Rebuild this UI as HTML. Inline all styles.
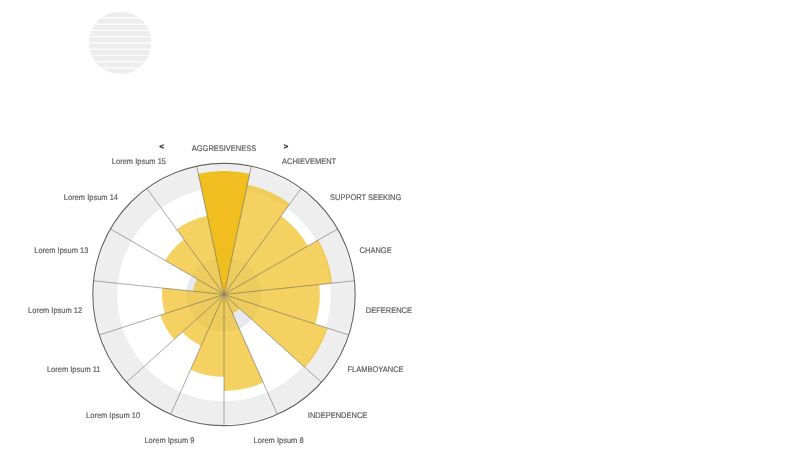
<!DOCTYPE html>
<html><head><meta charset="utf-8"><title>Chart</title>
<style>
html,body{margin:0;padding:0;background:#fff;}
body{width:800px;height:450px;overflow:hidden;position:relative;}
svg{position:absolute;left:0;top:0;display:block;}
text{font-family:"Liberation Sans",Arial,sans-serif;font-size:8.1px;fill:#5a5a5a;stroke:#5a5a5a;stroke-width:0.18px;text-rendering:geometricPrecision;}
.nav{font-weight:bold;font-size:7.6px;fill:#2e2e2e;stroke:#2e2e2e;stroke-width:0.35px;}
</style></head><body>
<svg width="800" height="450" viewBox="0 0 800 450">
<defs><clipPath id="cc"><circle cx="120.2" cy="42.75" r="31.3"/></clipPath></defs>
<g clip-path="url(#cc)">
<rect x="88" y="12.20" width="65" height="5.11" fill="#ededed"/>
<rect x="88" y="18.46" width="65" height="5.11" fill="#ededed"/>
<rect x="88" y="24.72" width="65" height="5.11" fill="#ededed"/>
<rect x="88" y="30.98" width="65" height="5.11" fill="#ededed"/>
<rect x="88" y="37.24" width="65" height="5.11" fill="#ededed"/>
<rect x="88" y="43.50" width="65" height="5.11" fill="#ededed"/>
<rect x="88" y="49.76" width="65" height="5.11" fill="#ededed"/>
<rect x="88" y="56.02" width="65" height="5.11" fill="#ededed"/>
<rect x="88" y="62.28" width="65" height="5.11" fill="#ededed"/>
<rect x="88" y="68.54" width="65" height="5.11" fill="#ededed"/>
</g>
<circle cx="224.0" cy="294.5" r="130.0" fill="#eeeeee"/>
<circle cx="224.0" cy="294.5" r="106.8" fill="#ffffff"/>
<circle cx="224.0" cy="294.5" r="37.5" fill="#e7e9ee"/>
<path d="M224.0 294.5 L198.32 173.70 A123.5 123.5 0 0 1 249.68 173.70 Z" fill="#f0be1e" fill-opacity="1"/>
<path d="M224.0 294.5 L247.35 184.65 A112.3 112.3 0 0 1 290.01 203.65 Z" fill="#f0be1e" fill-opacity="0.7"/>
<path d="M224.0 294.5 L281.02 216.03 A97 97 0 0 1 308.00 246.00 Z" fill="#f0be1e" fill-opacity="0.7"/>
<path d="M224.0 294.5 L318.22 240.10 A108.8 108.8 0 0 1 332.20 283.13 Z" fill="#f0be1e" fill-opacity="0.7"/>
<path d="M224.0 294.5 L319.28 284.49 A95.8 95.8 0 0 1 315.11 324.10 Z" fill="#f0be1e" fill-opacity="0.7"/>
<path d="M224.0 294.5 L327.67 328.18 A109 109 0 0 1 305.00 367.44 Z" fill="#f0be1e" fill-opacity="0.7"/>
<path d="M224.0 294.5 L239.61 308.55 A21 21 0 0 1 232.54 313.68 Z" fill="#f0be1e" fill-opacity="0.7"/>
<path d="M224.0 294.5 L263.21 382.57 A96.4 96.4 0 0 1 224.00 390.90 Z" fill="#f0be1e" fill-opacity="0.7"/>
<path d="M224.0 294.5 L224.00 376.80 A82.3 82.3 0 0 1 190.53 369.68 Z" fill="#f0be1e" fill-opacity="0.7"/>
<path d="M224.0 294.5 L201.22 345.66 A56 56 0 0 1 182.38 331.97 Z" fill="#f0be1e" fill-opacity="0.7"/>
<path d="M224.0 294.5 L174.21 339.33 A67 67 0 0 1 160.28 315.20 Z" fill="#f0be1e" fill-opacity="0.7"/>
<path d="M224.0 294.5 L165.03 313.66 A62 62 0 0 1 162.34 288.02 Z" fill="#f0be1e" fill-opacity="0.7"/>
<path d="M224.0 294.5 L193.17 291.26 A31 31 0 0 1 197.15 279.00 Z" fill="#f0be1e" fill-opacity="0.7"/>
<path d="M224.0 294.5 L165.11 260.50 A68 68 0 0 1 184.03 239.49 Z" fill="#f0be1e" fill-opacity="0.7"/>
<path d="M224.0 294.5 L176.68 229.37 A80.5 80.5 0 0 1 207.26 215.76 Z" fill="#f0be1e" fill-opacity="0.7"/>
<g opacity="0.55" stroke="#4a4a4a" stroke-width="0.85">
<line x1="224.0" y1="294.5" x2="251.24" y2="166.36"/>
<line x1="224.0" y1="294.5" x2="301.00" y2="188.52"/>
<line x1="224.0" y1="294.5" x2="337.45" y2="229.00"/>
<line x1="224.0" y1="294.5" x2="354.28" y2="280.81"/>
<line x1="224.0" y1="294.5" x2="348.59" y2="334.98"/>
<line x1="224.0" y1="294.5" x2="321.35" y2="382.16"/>
<line x1="224.0" y1="294.5" x2="277.28" y2="414.17"/>
<line x1="224.0" y1="294.5" x2="224.00" y2="425.50"/>
<line x1="224.0" y1="294.5" x2="170.72" y2="414.17"/>
<line x1="224.0" y1="294.5" x2="126.65" y2="382.16"/>
<line x1="224.0" y1="294.5" x2="99.41" y2="334.98"/>
<line x1="224.0" y1="294.5" x2="93.72" y2="280.81"/>
<line x1="224.0" y1="294.5" x2="110.55" y2="229.00"/>
<line x1="224.0" y1="294.5" x2="147.00" y2="188.52"/>
<line x1="224.0" y1="294.5" x2="196.76" y2="166.36"/>
</g>
<circle cx="224.0" cy="294.5" r="1.7" fill="#8a8272" fill-opacity="0.85"/>
<circle cx="224.0" cy="294.5" r="131.15" fill="none" stroke="#646464" stroke-width="1.1"/>
<text transform="translate(224.0 151.0) scale(0.926 1)" text-anchor="middle">AGGRESIVENESS</text>
<text transform="translate(282.0 164.3) scale(0.926 1)" text-anchor="start">ACHIEVEMENT</text>
<text transform="translate(330.0 200.3) scale(0.926 1)" text-anchor="start">SUPPORT SEEKING</text>
<text transform="translate(359.6 252.9) scale(0.926 1)" text-anchor="start">CHANGE</text>
<text transform="translate(365.8 312.9) scale(0.926 1)" text-anchor="start">DEFERENCE</text>
<text transform="translate(347.5 372.3) scale(0.926 1)" text-anchor="start">FLAMBOYANCE</text>
<text transform="translate(307.8 417.9) scale(0.926 1)" text-anchor="start">INDEPENDENCE</text>
<text transform="translate(253.6 442.7) scale(0.926 1)" text-anchor="start">Lorem Ipsum 8</text>
<text transform="translate(194.4 442.7) scale(0.926 1)" text-anchor="end">Lorem Ipsum 9</text>
<text transform="translate(140.2 417.9) scale(0.926 1)" text-anchor="end">Lorem Ipsum 10</text>
<text transform="translate(100.5 372.3) scale(0.926 1)" text-anchor="end">Lorem Ipsum 11</text>
<text transform="translate(82.2 312.9) scale(0.926 1)" text-anchor="end">Lorem Ipsum 12</text>
<text transform="translate(88.4 252.9) scale(0.926 1)" text-anchor="end">Lorem Ipsum 13</text>
<text transform="translate(118.0 200.3) scale(0.926 1)" text-anchor="end">Lorem Ipsum 14</text>
<text transform="translate(166.0 164.3) scale(0.926 1)" text-anchor="end">Lorem Ipsum 15</text>
<text class="nav" x="161.8" y="149.2" text-anchor="middle">&lt;</text>
<text class="nav" x="286" y="149.2" text-anchor="middle">&gt;</text>
</svg>
</body></html>
